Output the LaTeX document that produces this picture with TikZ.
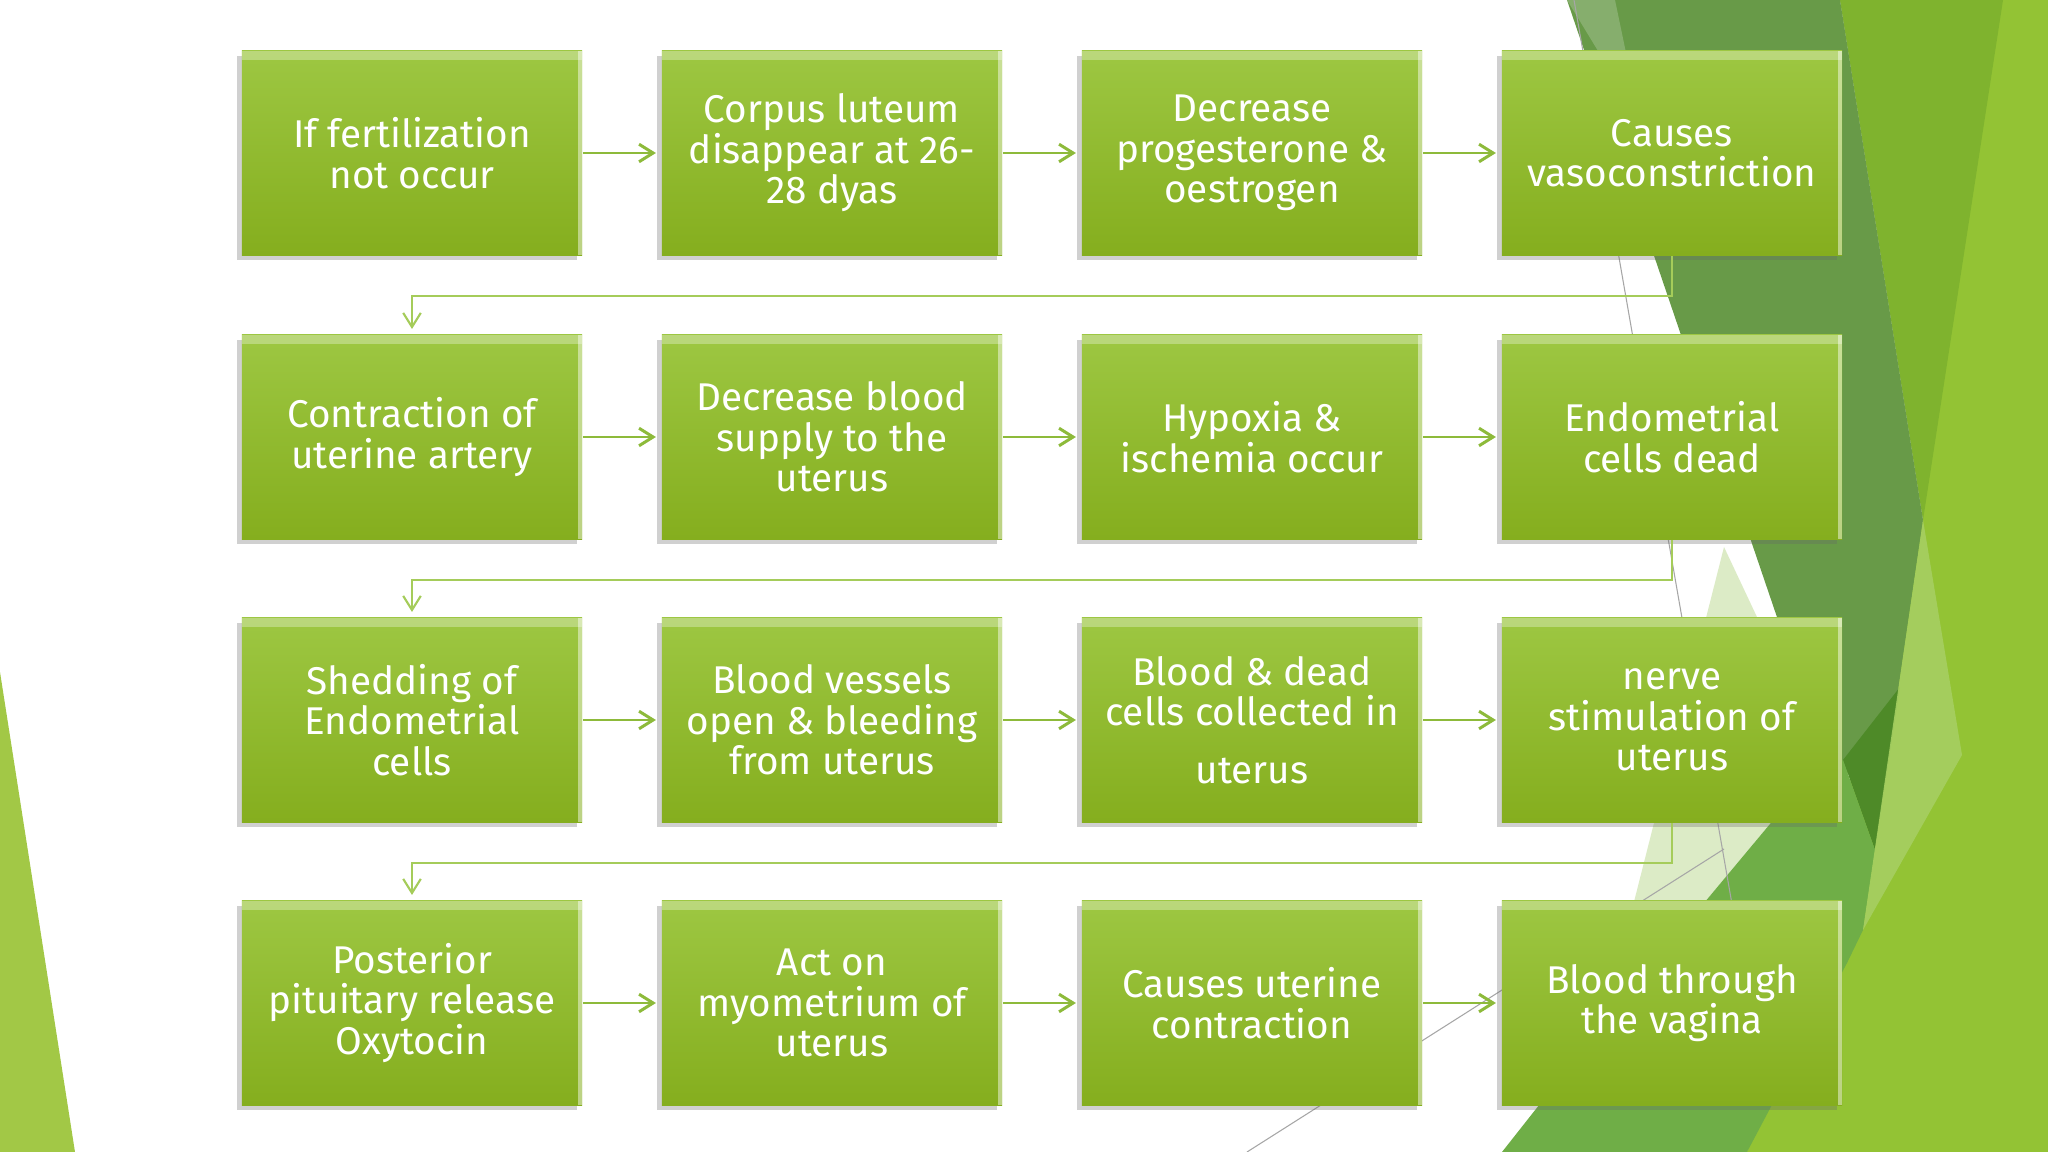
\documentclass[tikz,border=0pt]{standalone}
\usepackage{fontspec}
\setmainfont{Fira Sans}
\usepackage{tikz}
\usetikzlibrary{arrows.meta, positioning, shadows}
\definecolor{boxtop}{RGB}{157, 199, 66}
\definecolor{boxbottom}{RGB}{133, 174, 30}
\definecolor{linkgreen}{RGB}{141, 186, 58}
\definecolor{elbowgreen}{RGB}{165, 204, 90}
\definecolor{olivegreen}{RGB}{104, 154, 72}
\definecolor{brightgreen}{RGB}{147, 195, 52}
\definecolor{stripgreen}{RGB}{127, 179, 46}
\definecolor{darkgreen}{RGB}{78, 138, 40}
\definecolor{midgreen}{RGB}{111, 174, 71}
\definecolor{palegreen}{RGB}{220, 235, 198}
\definecolor{lightfacet}{RGB}{166, 207, 98}
\definecolor{leafgreen}{RGB}{162, 200, 70}

\tikzset{
  stepbox/.style={rectangle, minimum width=3.4cm, minimum height=2.04cm,
    top color=boxtop, bottom color=boxbottom, text=white, align=center,
    inner sep=2pt, font=\fontsize{11pt}{11.5pt}\selectfont,
    drop shadow={shadow xshift=-1.5pt, shadow yshift=-1.5pt, opacity=0.3, fill=black!60},
    path picture={
      \fill[white, opacity=0.3] (path picture bounding box.north west) rectangle ([yshift=-2.5pt]path picture bounding box.north east);
      \fill[white, opacity=0.45] ([xshift=-1.2pt]path picture bounding box.north east) rectangle (path picture bounding box.south east);
    }},
  link/.style={draw=linkgreen, line width=0.85pt, shorten >=1.5pt, -{Straight Barb[length=4pt, width=5pt]}},
  elbow/.style={draw=elbowgreen, line width=0.6pt, shorten >=1.5pt, -{Straight Barb[length=4pt, width=5pt]}},
  facetline/.style={draw=gray!70, line width=0.3pt}
}

\begin{document}
\begin{tikzpicture}[x=0.01cm, y=-0.01cm]
  % page and background facets
  \fill[white] (0,0) rectangle (2048,1152);
  \useasboundingbox (0,0) rectangle (2048,1152);
  \fill[leafgreen] (0,672) -- (75,1152) -- (0,1152) -- cycle;
  \fill[brightgreen] (1840,0) -- (2048,0) -- (2048,1152) -- (1747,1152) -- (1923,520) -- cycle;
  \fill[stripgreen] (1840,0) -- (2003,0) -- (1923,520) -- cycle;
  \fill[palegreen] (1724,547) -- (1829,770) -- (1790,800) -- (1603,1024) -- cycle;
  \fill[olivegreen] (1567,0) -- (1840,0) -- (1923,520) -- (1885,780) -- (1829,770) -- cycle;
  \fill[olivegreen!80!white] (1567,0) -- (1615,0) -- (1640,120) -- cycle;
  \fill[darkgreen] (1900,687) -- (1843,760) -- (1875,850) -- cycle;
  \fill[midgreen] (1829,770) -- (1843,760) -- (1875,850) -- (1863,930) -- (1847,963) -- (1747,1152) -- (1502,1152) -- (1603,1024) -- (1790,800) -- cycle;
  \fill[lightfacet, opacity=0.9] (1923,520) -- (1962,755) -- (1863,930) -- cycle;
  \draw[facetline] (1574,0) -- (1740,950);
  \draw[facetline] (1247,1152) -- (1724,849);

  % row 1
  \node[stepbox] (nofert)   at (412,153) {If fertilization\\not occur};
  \node[stepbox] (luteum)   at (832,153) {Corpus luteum\\disappear at 26-\\28 dyas};
  \node[stepbox] (hormone)  at (1252,153) {Decrease\\progesterone \&\\oestrogen};
  \node[stepbox] (vaso)     at (1672,153) {Causes\\vasoconstriction};
  % row 2
  \node[stepbox] (artery)   at (412,437) {Contraction of\\uterine artery};
  \node[stepbox] (supply)   at (832,437) {Decrease blood\\supply to the\\uterus};
  \node[stepbox] (hypoxia)  at (1252,437) {Hypoxia \&\\ischemia occur};
  \node[stepbox] (celldead) at (1672,437) {Endometrial\\cells dead};
  % row 3
  \node[stepbox] (shed)     at (412,720) {Shedding of\\Endometrial\\cells};
  \node[stepbox] (bleed)    at (832,720) {Blood vessels\\open \& bleeding\\from uterus};
  \node[stepbox] (collect)  at (1252,720) {Blood \& dead\\cells collected in\\[5pt]uterus};
  \node[stepbox] (nerve)    at (1672,720) {nerve\\stimulation of\\uterus};
  % row 4
  \node[stepbox] (pituitary) at (412,1003) {Posterior\\pituitary release\\Oxytocin};
  \node[stepbox] (myomet)    at (832,1003) {Act on\\myometrium of\\uterus};
  \node[stepbox] (contract)  at (1252,1003) {Causes uterine\\contraction};
  \node[stepbox] (vagina)    at (1672,1003) {Blood through\\the vagina};

  % arrows along the rows
  \draw[link] (nofert) -- (luteum);
  \draw[link] (luteum) -- (hormone);
  \draw[link] (hormone) -- (vaso);
  \draw[link] (artery) -- (supply);
  \draw[link] (supply) -- (hypoxia);
  \draw[link] (hypoxia) -- (celldead);
  \draw[link] (shed) -- (bleed);
  \draw[link] (bleed) -- (collect);
  \draw[link] (collect) -- (nerve);
  \draw[link] (pituitary) -- (myomet);
  \draw[link] (myomet) -- (contract);
  \draw[link] (contract) -- (vagina);

  % wrap to next row
  \draw[elbow] (vaso.south) -- ++(0,40) -| (artery.north);
  \draw[elbow] (celldead.south) -- ++(0,40) -| (shed.north);
  \draw[elbow] (nerve.south) -- ++(0,40) -| (pituitary.north);
\end{tikzpicture}
\end{document}
